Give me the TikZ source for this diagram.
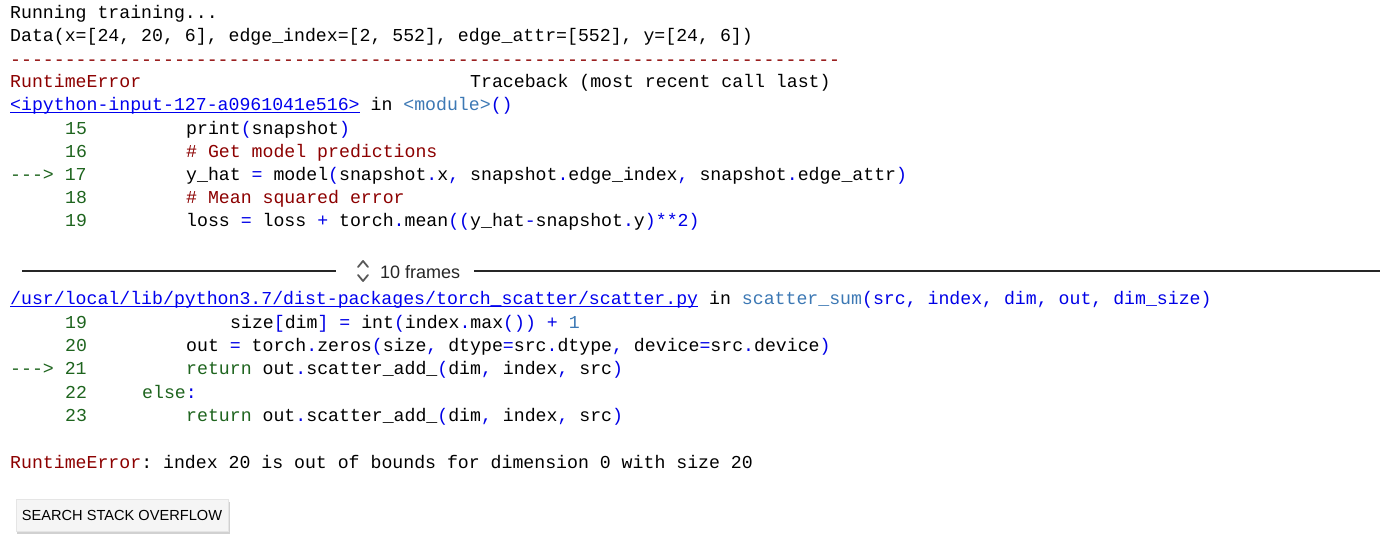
\documentclass[tikz,border=0pt]{standalone}
\usepackage{fontspec}
\setmainfont{Liberation Sans}
\setmonofont{Liberation Mono}
\definecolor{dred}{RGB}{140,0,0}
\definecolor{dgrn}{RGB}{30,100,30}
\definecolor{oblu}{RGB}{0,0,230}
\definecolor{lnk}{RGB}{0,0,238}
\definecolor{mblu}{RGB}{60,120,180}
\newcommand\cred[1]{\textcolor{dred}{#1}}
\newcommand\cgrn[1]{\textcolor{dgrn}{#1}}
\newcommand\cblu[1]{\textcolor{oblu}{#1}}
\newcommand\cmod[1]{\textcolor{mblu}{#1}}
\newcommand\clnk[1]{\textcolor{lnk}{\setbox0\hbox{#1}\rlap{\rule[-2.5pt]{\wd0}{1.1pt}}\box0}}
\begin{document}
\begin{tikzpicture}[x=1pt,y=-1pt,
  t/.style={anchor=base west,inner sep=0pt,font=\ttfamily\fontsize{18.2}{20}\selectfont},
  num/.style={t,text=dgrn}]
\useasboundingbox (0,0) rectangle (1380,534);
\node[t] (l1) at (10,19) {Running training...};
\node[t] (l2) at (10,42) {Data(x=[24, 20, 6], edge\_index=[2, 552], edge\_attr=[552], y=[24, 6])};
\node[t,text=dred] (l3) at (10,66) {----------------------------------------------------------------------------};
\node[t] (l4) at (10,88) {\cred{RuntimeError}};
\node[t] (l4b) at (470,88) {Traceback (most recent call last)};
\node[t] (l5) at (10,111) {\clnk{<ipython-input-127-a0961041e516>} in \cmod{<module>}\cblu{()}};
\node[num] (n15) at (65,135) {15};
\node[t] (c15) at (186,135) {print\cblu{(}snapshot\cblu{)}};
\node[num] (n16) at (65,158) {16};
\node[t] (c16) at (186,158) {\cred{\# Get model predictions}};
\node[num] (n17) at (10,181) {---> 17};
\node[t] (c17) at (186,181) {y\_hat \cblu{=} model\cblu{(}snapshot\cblu{.}x\cblu{,} snapshot\cblu{.}edge\_index\cblu{,} snapshot\cblu{.}edge\_attr\cblu{)}};
\node[num] (n18) at (65,204) {18};
\node[t] (c18) at (186,204) {\cred{\# Mean squared error}};
\node[num] (n19) at (65,227) {19};
\node[t] (c19) at (186,227) {loss \cblu{=} loss \cblu{+} torch\cblu{.}mean\cblu{((}y\_hat\cblu{-}snapshot\cblu{.}y\cblu{)**2)}};
% frames separator
\draw[line width=1.6pt,black!85] (22,271) -- (336,271);
\draw[line width=1.6pt,black!85] (474,271) -- (1380,271);
\draw[line width=1.8pt,black!65,line cap=round,line join=round] (358,267) -- (363,261) -- (368,267);
\draw[line width=1.8pt,black!65,line cap=round,line join=round] (358,275) -- (363,281) -- (368,275);
\node[anchor=west,inner sep=0pt,font=\fontsize{18}{20}\selectfont,text=black!85] (fr) at (380,272) {10 frames};
\node[t] (m1) at (10,305) {\clnk{/usr/local/lib/python3.7/dist-packages/torch\_scatter/scatter.py} in \cmod{scatter\_sum}\cblu{(src, index, dim, out, dim\_size)}};
\node[num] (k19) at (65,328) {19};
\node[t] (d19) at (230,328) {size\cblu{[}dim\cblu{]} \cblu{=} int\cblu{(}index\cblu{.}max\cblu{())} \cblu{+} \cmod{1}};
\node[num] (k20) at (65,351) {20};
\node[t] (d20) at (186,351) {out \cblu{=} torch\cblu{.}zeros\cblu{(}size\cblu{,} dtype\cblu{=}src\cblu{.}dtype\cblu{,} device\cblu{=}src\cblu{.}device\cblu{)}};
\node[num] (k21) at (10,374) {---> 21};
\node[t] (d21) at (186,374) {\cgrn{return} out\cblu{.}scatter\_add\_\cblu{(}dim\cblu{,} index\cblu{,} src\cblu{)}};
\node[num] (k22) at (65,398) {22};
\node[t] (d22) at (142,398) {\cgrn{else}\cblu{:}};
\node[num] (k23) at (65,421) {23};
\node[t] (d23) at (186,421) {\cgrn{return} out\cblu{.}scatter\_add\_\cblu{(}dim\cblu{,} index\cblu{,} src\cblu{)}};
\node[t] (err) at (10,468) {\cred{RuntimeError}: index 20 is out of bounds for dimension 0 with size 20};
% button
\fill[black!18] (17,502) rectangle (230,534);
\node[draw=black!10,fill=black!4,minimum width=212pt,minimum height=32pt,inner sep=0pt,font=\fontsize{14.6}{16}\selectfont] (btn) at (122,515) {SEARCH STACK OVERFLOW};
\end{tikzpicture}
\end{document}
